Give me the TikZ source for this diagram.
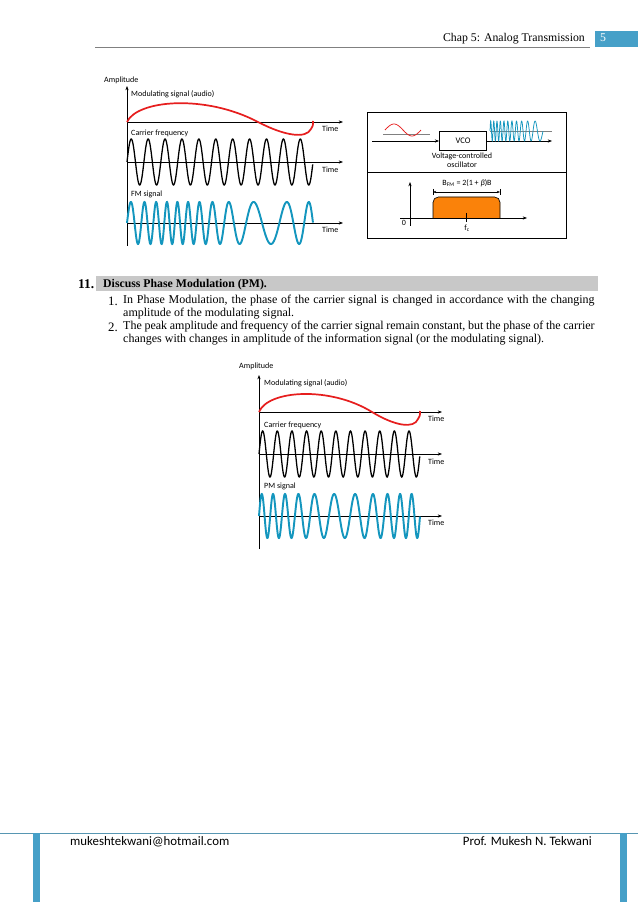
\documentclass[tikz,border=0pt]{standalone}
\usepackage{fontspec}
\setmainfont{Liberation Serif}
\newfontfamily\figfont{Carlito}
\usetikzlibrary{arrows.meta}
\definecolor{fmred}{RGB}{230,30,30}
\definecolor{fmcyan}{RGB}{20,150,190}
\definecolor{fmorange}{RGB}{250,130,10}
\definecolor{barblue}{RGB}{70,160,200}
\definecolor{headgray}{RGB}{200,200,200}
\tikzset{
  axis/.style={draw=black,line width=0.6pt,-{Stealth[length=4pt,width=3pt]}},
  lbl/.style={font=\figfont\fontsize{7.5}{8}\selectfont,inner sep=0pt},
  modsig/.style={draw=fmred,line width=1.6pt},
  carrier/.style={draw=black,line width=1.2pt},
  fmsig/.style={draw=fmcyan,line width=1.8pt},
  body/.style={font=\fontsize{11.2}{12.2}\selectfont,inner sep=0pt,anchor=north west}
}
\begin{document}
\begin{tikzpicture}[x=0.9333pt,y=-0.9333pt]
  \useasboundingbox (0,0) rectangle (638,902);

  % page header
  \node[anchor=base east,font=\fontsize{11}{12}\selectfont,inner sep=0pt] (head) at (585,42) {Chap 5: Analog Transmission};
  \fill[barblue] (595,31) rectangle (638,47);
  \node[text=white,font=\fontsize{11}{12}\selectfont,inner sep=0pt,anchor=base] (pg) at (603,42) {5};
  \draw[gray,line width=0.8pt] (95,47.5) -- (590,47.5);

  % FM figure
  \node[lbl,anchor=west] (amp1) at (104,80) {Amplitude};
  \draw[axis] (127,246) -- (127,86);
  \node[lbl,anchor=west] (mod1) at (131,94) {Modulating signal (audio)};
  \draw[axis] (127,122) -- (343,122);
  \node[lbl,anchor=west] (t1) at (322,129) {Time};
  \node[lbl,anchor=west] (car1) at (131,133) {Carrier frequency};
  \draw[axis] (127,162) -- (343,162);
  \node[lbl,anchor=west] (t2) at (322,170) {Time};
  \node[lbl,anchor=west] (fm1) at (131,194) {FM signal};
  \draw[axis] (127,223) -- (343,223);
  \node[lbl,anchor=west] (t3) at (322,230) {Time};
  \draw[modsig] (127,122) .. controls (137,100) and (205,94) .. (258,122)
    .. controls (285,136) and (306,139) .. (311,129) .. controls (313,126) .. (313,121);
  \draw[carrier] plot[domain=0:1,samples=400,smooth] ({127+186*\x},{162-23*sin(11*360*\x)});
  \draw[fmsig] plot[domain=0:1,samples=800,smooth] ({127+186*\x},{223-21*sin(360*(11.5*\x+1.0*(1-cos(360*\x))))});

  % VCO box
  \draw[line width=0.6pt] (367,112) rectangle (566,238);
  \draw[line width=0.6pt] (367,172) -- (566,172);
  \node[draw,line width=0.6pt,minimum width=44pt,minimum height=18pt,lbl,font=\figfont\fontsize{8}{9}\selectfont] (vco) at (463,141) {VCO};
  \coordinate (in) at (372,141);
  \coordinate (out) at (552,141);
  \draw[axis] (in) -- (vco);
  \draw[axis] (vco) -- (out);
  \draw[gray,line width=0.5pt] (383,134) -- (430,134);
  \draw[draw=fmred,line width=0.7pt] plot[domain=0:1,samples=80,smooth] ({385+36*\x},{130-6*sin(360*\x)});
  \draw[gray,line width=0.5pt] (490,131) -- (552,131);
  \draw[draw=fmcyan,line width=0.7pt] plot[domain=0:1,samples=300,smooth] ({490+53*\x},{131-10*sin(360*(18*\x-7*\x*\x))});
  \node[lbl,align=center,font=\figfont\fontsize{7.5}{8.5}\selectfont] (vcol) at (462,160) {Voltage-controlled\\oscillator};
  \draw[axis] (410,226) -- (410,182);
  \draw[axis] (400,218) -- (527,218);
  \node[lbl] (zero) at (404,223) {0};
  \draw[fill=fmorange,line width=0.6pt,rounded corners=5pt] (433,218) -- (433,197) -- (500,197) -- (500,218);
  \draw[line width=0.6pt] (466,213) -- (466,222);
  \node[lbl] (fc) at (467,228) {f\textsubscript{c}};
  \draw[line width=0.4pt,{Stealth[length=3pt]}-{Stealth[length=3pt]}] (433,192) -- (500,192);
  \draw[line width=0.4pt] (433,189) -- (433,195) (500,189) -- (500,195);
  \node[lbl] (bfm) at (467,183) {B\textsubscript{FM} = 2(1 + \textit{β})B};

  % section 11
  \fill[headgray] (96,276) rectangle (598,291);
  \node[anchor=base west,inner sep=0pt,font=\bfseries\fontsize{12.5}{13}\selectfont] (num) at (78,288) {11.};
  \node[anchor=base west,inner sep=0pt,font=\bfseries\fontsize{11}{12}\selectfont] (sec) at (103,287) {Discuss Phase Modulation (PM).};
  \node[anchor=base west,inner sep=0pt,font=\fontsize{12}{12}\selectfont] (n1) at (108,305) {1.};
  \node[body,text width=440pt,align=justify] (it1) at (123,295) {In Phase Modulation, the phase of the carrier signal is changed in accordance with the changing amplitude of the modulating signal.};
  \node[anchor=base west,inner sep=0pt,font=\fontsize{12}{12}\selectfont] (n2) at (108,331) {2.};
  \node[body,text width=440pt,align=justify] (it2) at (123,321) {The peak amplitude and frequency of the carrier signal remain constant, but the phase of the carrier changes with changes in amplitude of the information signal (or the modulating signal).};

  % PM figure
  \node[lbl,anchor=west] (amp2) at (239,366) {Amplitude};
  \draw[axis] (259,549) -- (259,375);
  \node[lbl,anchor=west] (mod2) at (264,383) {Modulating signal (audio)};
  \draw[axis] (259,412) -- (442,412);
  \node[lbl,anchor=west] (t4) at (428,419) {Time};
  \node[lbl,anchor=west] (car2) at (264,425) {Carrier frequency};
  \draw[axis] (259,454) -- (442,454);
  \node[lbl,anchor=west] (t5) at (428,462) {Time};
  \node[lbl,anchor=west] (pm2) at (264,486) {PM signal};
  \draw[axis] (259,516) -- (442,516);
  \node[lbl,anchor=west] (t6) at (428,523) {Time};
  \draw[modsig] (259,412) .. controls (268,390) and (330,386) .. (372,412)
    .. controls (395,426) and (414,429) .. (418,419) .. controls (420,416) .. (420,411);
  \draw[carrier] plot[domain=0:1,samples=400,smooth] ({259+161*\x},{454-23*sin(11*360*\x)});
  \draw[fmsig] plot[domain=0:1,samples=800,smooth] ({259+161*\x},{516-22*sin(360*11*\x+200*sin(360*\x))});

  % footer
  \draw[color=barblue!70!gray,line width=0.8pt] (0,833) -- (638,833);
  \fill[barblue] (33,833) rectangle (40,902);
  \fill[barblue] (620,833) rectangle (627,902);
  \node[anchor=base west,inner sep=0pt,font=\figfont\fontsize{12}{13}\selectfont] (mail) at (70,845) {mukeshtekwani@hotmail.com};
  \node[anchor=base east,inner sep=0pt,font=\figfont\fontsize{12}{13}\selectfont] (prof) at (592,845) {Prof. Mukesh N. Tekwani};
\end{tikzpicture}
\end{document}
